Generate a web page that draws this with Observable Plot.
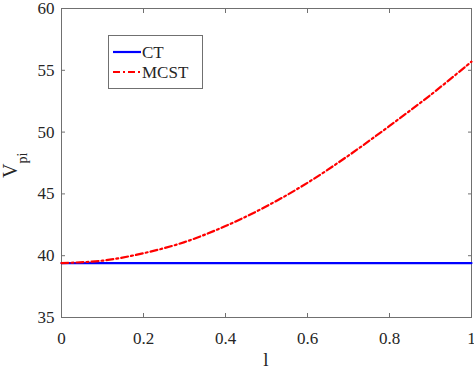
<!DOCTYPE html>
<html>
<head>
<meta charset="utf-8">
<script src="https://cdn.jsdelivr.net/npm/d3@7"></script>
<script src="https://cdn.jsdelivr.net/npm/@observablehq/plot@0.6"></script>
<style>
  html, body { margin: 0; padding: 0; background: #fff; }
  #chart { width: 474px; height: 370px; }
  #chart svg, #chart svg text { font-family: "Liberation Serif", "Times New Roman", Tinos, serif !important; }
</style>
</head>
<body>
<div id="chart"></div>
<script>
// Data
const lValues = [0, 0.1, 0.2, 0.3, 0.4, 0.5, 0.6, 0.7, 0.8, 0.9, 1.0];
const ctValues = [39.4, 39.4, 39.4, 39.4, 39.4, 39.4, 39.4, 39.4, 39.4, 39.4, 39.4];
const mcstValues = [39.4, 39.6, 40.2, 41.1, 42.4, 44.0, 45.9, 48.1, 50.5, 53.0, 55.7];
const seriesNames = ["CT", "MCST"];
const xTicks = [0, 0.2, 0.4, 0.6, 0.8, 1];
const xTickLabels = ["0", "0.2", "0.4", "0.6", "0.8", "1"];
const yTicks = [35, 40, 45, 50, 55, 60];
const xLabel = "l";
const yLabelMain = "V";
const yLabelSub = "pi";

const ct = lValues.map((l, i) => ({l, v: ctValues[i]}));
const mcst = lValues.map((l, i) => ({l, v: mcstValues[i]}));

const axisColor = "#707070";
const textColor = "#262626";
const serif = "Liberation Serif";

const plot = Plot.plot({
  width: 474,
  height: 370,
  marginLeft: 61,
  marginTop: 8,
  marginRight: 3,
  marginBottom: 53,
  style: {fontSize: "17px", color: textColor, background: "#fff"},
  x: {domain: [0, 1], label: null},
  y: {domain: [35, 60], label: null},
  marks: [
    Plot.frame({stroke: axisColor, strokeWidth: 1}),
    Plot.axisX(xTicks, {anchor: "bottom", label: null, tickSize: 0, tickPadding: 14, tickFormat: (d) => xTickLabels[xTicks.indexOf(d)], fill: textColor, fontSize: 17, fontFamily: serif, fontVariant: "normal"}),
    Plot.axisY(yTicks, {anchor: "left", label: null, tickSize: 0, tickPadding: 7, tickFormat: (d) => String(d), fill: textColor, fontSize: 17, fontFamily: serif, fontVariant: "normal"}),
    Plot.axisX(xTicks, {anchor: "bottom", label: null, tickSize: -4, tickFormat: () => "", stroke: axisColor}),
    Plot.axisX(xTicks, {anchor: "top", label: null, tickSize: -4, tickFormat: () => "", stroke: axisColor}),
    Plot.axisY(yTicks, {anchor: "left", label: null, tickSize: -4, tickFormat: () => "", stroke: axisColor}),
    Plot.axisY(yTicks, {anchor: "right", label: null, tickSize: -4, tickFormat: () => "", stroke: axisColor}),
    Plot.line(ct, {x: "l", y: "v", stroke: "#0000ff", strokeWidth: 2.2}),
    Plot.line(mcst, {x: "l", y: "v", stroke: "#ff0000", strokeWidth: 2.2, strokeDasharray: "7,3,2,3", curve: "catmull-rom"})
  ]
});

document.getElementById("chart").appendChild(plot);

const svg = d3.select(plot);

// x axis label
svg.append("text")
  .attr("x", 266).attr("y", 366)
  .attr("text-anchor", "middle")
  .attr("fill", textColor)
  .style("font-size", "19px")
  .text(xLabel);

// y axis label with subscript
const yl = svg.append("text")
  .attr("transform", "translate(17,178) rotate(-90)")
  .attr("text-anchor", "start")
  .attr("fill", textColor)
  .style("font-size", "20px");
yl.append("tspan").text(yLabelMain);
yl.append("tspan").attr("dy", 10).style("font-size", "14px").text(yLabelSub);

// legend
const lg = svg.append("g");
lg.append("rect").attr("x", 108.5).attr("y", 35.5).attr("width", 94).attr("height", 53)
  .attr("fill", "#fff").attr("stroke", axisColor).attr("stroke-width", 1);
const legendItems = [
  {name: seriesNames[0], color: "#0000ff", dash: null, y: 52},
  {name: seriesNames[1], color: "#ff0000", dash: "7,3,2,3", y: 72}
];
legendItems.forEach(it => {
  lg.append("line").attr("x1", 113).attr("x2", 141).attr("y1", it.y).attr("y2", it.y)
    .attr("stroke", it.color).attr("stroke-width", 2.2)
    .attr("stroke-dasharray", it.dash);
  lg.append("text").attr("x", 142).attr("y", it.y + 6)
    .attr("text-anchor", "start")
    .attr("fill", textColor)
    .style("font-size", "17px").text(it.name);
});
</script>
</body>
</html>
